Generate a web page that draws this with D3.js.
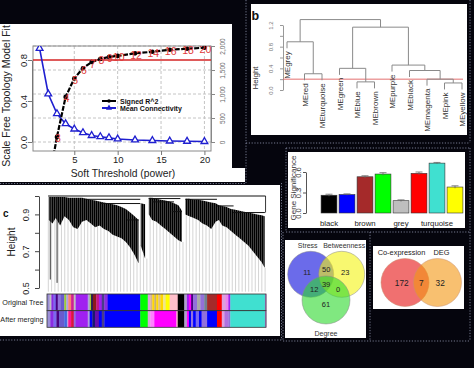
<!DOCTYPE html>
<html><head><meta charset="utf-8">
<script src="https://cdn.jsdelivr.net/npm/d3@7"></script>
<style>
html,body{margin:0;padding:0;background:#05050d;}
svg{display:block;font-family:"Liberation Sans",Arial,Helvetica,sans-serif;}
</style></head>
<body><svg id="fig" width="474" height="368"></svg>
<script>
// ---------- DATA ----------
// panel a : soft threshold
const powers = [1,2,3,4,5,6,7,8,9,10,12,14,16,18,20];
const signedR2 = [-0.75,-0.42,0.05,0.44,0.62,0.72,0.78,0.81,0.83,0.84,0.865,0.88,0.90,0.91,0.92];
const meanConnectivity = [1950,1000,590,380,270,195,135,110,90,63,42,30,20,15,10];
const aXTicks = [5,10,15,20];
const aLeftTicks = [0,0.4,0.8];
const aRightTicks = [0,500,1000,1500,2000];
const aCut = 0.8;
const aLegend = ["Signed R^2","Mean Connectivity"];

// panel b : eigengene dendrogram
const meLeaves = ["MEgrey","MEred","MEturquoise","MEgreen","MEblue","MEbrown","MEpurple","MEblack","MEmagenta","MEpink","MEyellow"];
const meMerges = [["MEred","MEturquoise",0.30],["MEgrey",0,0.89],["MEblue","MEbrown",0.15],["MEgreen",2,0.40],
  ["MEpink","MEyellow",0.13],["MEmagenta",4,0.20],["MEblack",5,0.36],["MEpurple",6,0.46],[3,7,1.16],[1,8,1.30]];
const meTicks = [0,0.2,0.4,0.6,0.8,1.0,1.2];
const meLabelTicks = [0,0.4,0.8,1.2];
const meCut = 0.2;

// gene significance
const gsModules = ["black","blue","brown","green","grey","red","turquoise","yellow"];
const gsFill = ["#000000","#0000ff","#a52a2a","#00ff00","#bebebe","#ff0000","#40e0d0","#ffff00"];
const gsValues = [0.26,0.27,0.53,0.57,0.18,0.58,0.73,0.38];
const gsErrors = [0.015,0.01,0.015,0.02,0.012,0.02,0.01,0.018];
const gsTicks = [0,0.3,0.6];
const gsShownLabels = ["black","brown","grey","turquoise"];

// panel c : gene dendrogram (leaf position %, top height, lowest height)
const treeClusters = [
 [[0.8,0.995,0.87],[2.5,0.995,0.85],[4,0.995,0.88],[6,0.995,0.84],[8,0.995,0.89],[10,0.99,0.87],[12,0.99,0.83],
  [14,0.99,0.82],[16,0.99,0.86],[18,0.985,0.87],[20,0.98,0.85],[22,0.975,0.83],[24,0.97,0.84],[26,0.965,0.82],
  [28,0.96,0.81],[30,0.955,0.79],[32,0.95,0.78],[34,0.94,0.77],[36,0.93,0.75],[38,0.91,0.72],[40,0.89,0.68],[41.8,0.87,0.635]],
 [[42.8,0.96,0.73],[44.8,0.955,0.66]],
 [[46.5,0.99,0.90],[48,0.99,0.87],[50,0.985,0.86],[52,0.98,0.84],[54,0.975,0.82],[56,0.97,0.80],[58,0.96,0.78],[60,0.95,0.76],[61.6,0.92,0.75]],
 [[63.2,0.985,0.90],[65,0.985,0.89],[67,0.98,0.88],[69,0.98,0.87],[71,0.975,0.85],[73,0.97,0.84],[75,0.965,0.82],[77,0.96,0.86],
  [78.5,0.95,0.87],[80,0.945,0.84],[82,0.94,0.83],[84,0.93,0.81],[86,0.925,0.79],[88,0.92,0.77],[90,0.915,0.75],[92,0.91,0.73],
  [94,0.905,0.70],[96,0.90,0.67],[98,0.895,0.64],[99.4,0.89,0.61]]
];
const treeSingles = [[1.5,0.995,0.546],[4.6,0.995,0.528],[99.8,1.0,0.91]];
const treeMerges = [[0.5,99.8,1.0],[17.5,42.6,0.982],[24.4,42.6,0.959],[36.5,41.9,0.87],[46.4,60.9,0.986],[48,58,0.968],
  [57,61.6,0.915],[63.2,77.6,0.982],[77.6,85.2,0.946],[85,99.5,0.91]];
const cTicks = [0.5,0.6,0.7,0.8,0.9,1.0];
const cLabelTicks = [0.5,0.7,0.9];
const origTree = [[0,"#9b8fd8"],[1.2,"#c0c0c0"],[2,"#8a2be2"],[3,"#7b68ee"],[4,"#4b0082"],[4.9,"#9370db"],[6.1,"#6a5acd"],
 [7.9,"#9acd32"],[8.8,"#b0a0e0"],[9.7,"#fa8072"],[11,"#d02090"],[12.2,"#bebebe"],[13.1,"#a020f0"],[18.6,"#b0a0e0"],
 [19.5,"#9acd32"],[20.1,"#2f1f4f"],[21,"#8b1a1a"],[22.5,"#c71585"],[23.7,"#a020f0"],[25,"#483d8b"],[26.2,"#8a2be2"],
 [27.7,"#0000ff"],[42.6,"#00ff00"],[46,"#dda0dd"],[47.2,"#d2b48c"],[48.1,"#ffd700"],[49,"#c8b070"],[49.9,"#ffd700"],
 [50.8,"#e0c080"],[51.8,"#ffd700"],[53,"#f0e68c"],[54.2,"#ffff00"],[56,"#ffc0cb"],[59.7,"#000000"],[62.7,"#b0a0d0"],
 [63.9,"#a020f0"],[64.8,"#ff00ff"],[65.8,"#4b0082"],[66.7,"#9370db"],[68.5,"#a9a9a9"],[70,"#9370db"],[71.8,"#708090"],
 [73.1,"#a52a2a"],[77.6,"#ff0000"],[79.8,"#dda0dd"],[81.6,"#ee82ee"],[82.8,"#a020f0"],[83.7,"#40e0d0"],[99.5,"#c080e0"]];
const mergedTree = [[0,"#9b8fd8"],[1.5,"#8a2be2"],[3,"#7b68ee"],[4.3,"#4b0082"],[5.5,"#6a5acd"],[7.9,"#4169e1"],[9.1,"#c0a0e0"],
 [9.7,"#ff1493"],[11,"#dc143c"],[12.2,"#9370db"],[13.1,"#a020f0"],[18.6,"#b0a0e0"],[19.5,"#0000ff"],[20.7,"#191970"],
 [21.9,"#6a0dad"],[23.7,"#0000ff"],[25,"#483d8b"],[26.2,"#0000ff"],[42.6,"#00ff00"],[46,"#dda0dd"],[47.2,"#ff80ff"],
 [49,"#ff00ff"],[59.1,"#ffc0cb"],[59.7,"#000000"],[62.7,"#b0a0d0"],[63.9,"#ff00ff"],[64.8,"#0000ff"],[65.8,"#9370db"],
 [66.7,"#0000ff"],[67.9,"#7b68ee"],[69.4,"#0000ff"],[70.6,"#9370db"],[73.1,"#0000ff"],[77.6,"#ff0000"],[79.8,"#dda0dd"],
 [81,"#b070e0"],[82.8,"#9370db"],[83.7,"#40e0d0"],[99.5,"#c080e0"]];
const colorRowLabels = ["Original Tree","After merging"];

// venn diagrams
const venn3Sets = ["Stress","Betweenness","Degree"];
const venn3Colors = ["#0808dc","#f3f311","#2bd92b"];
const venn3Regions = ["S","B","D","SB","SD","BD","SBD"];
const venn3Counts = [11,23,61,50,12,0,39];
const venn2Sets = ["Co-expression","DEG"];
const venn2Colors = ["#e61111","#f39611"];
const venn2Counts = [172,32,7];

// ---------- DRAW ----------
const svg = d3.select("#fig");
svg.append("rect").attr("width",474).attr("height",368).attr("fill","#05050d");
const defs = svg.append("defs");
const pat = defs.append("pattern").attr("id","hair").attr("patternUnits","userSpaceOnUse").attr("width",2).attr("height",6);
pat.append("rect").attr("width",1.75).attr("height",6).attr("fill","#000");

// white panels
svg.append("path").attr("d","M0,24H232V168H245V182H0Z").attr("fill","#fff");
[[251,4,216,131],[288,152,177,76],[0,185,280,151],[285,240,81,98],[373,246,91,63]].forEach(([x,y,w,h])=>
  svg.append("rect").attr("x",x).attr("y",y).attr("width",w).attr("height",h).attr("fill","#fff"));
const dots = [[246,0,246,183],[0,183.5,246,183.5],[470,0,470,143],[246,143,470,143],[286,148,286,232],[286,148,470,148],
  [470,148,470,232],[286,232,470,232],[281.5,183,281.5,340],[0,340,281.5,340],[283,232,283,341],[370,232,370,341],[470,232,470,341],[283,341,470,341]];
svg.append("g").selectAll("line").data(dots).join("line")
  .attr("x1",d=>d[0]).attr("y1",d=>d[1]).attr("x2",d=>d[2]).attr("y2",d=>d[3])
  .attr("stroke","#8f95b0").attr("stroke-width",0.8).attr("stroke-dasharray","1.2,1.6");

function rotText(g,x,y,txt,size,fill,anchor){
  return g.append("text").attr("transform",`translate(${x},${y}) rotate(-90)`).attr("text-anchor",anchor||"middle")
    .attr("font-size",size).attr("fill",fill||"#222").text(txt);
}
function rotateAxisText(sel,dx,size,fill){
  sel.selectAll("text").attr("x",null).attr("dy",null).attr("y",null).attr("transform",`translate(${dx},0) rotate(-90)`)
    .attr("text-anchor","middle").attr("font-size",size).attr("fill",fill).attr("font-family",null);
}

// ===== PANEL A =====
const gA = svg.append("g");
const xA = d3.scaleLinear().domain([0.24,20.76]).range([33,211]);
const yL = d3.scaleLinear().domain([0,0.8]).range([142,60]);
const yR = d3.scaleLinear().domain([0,2000]).range([142,46]);
gA.selectAll(".gx").data(aXTicks).join("line").attr("x1",d=>xA(d)).attr("x2",d=>xA(d)).attr("y1",46).attr("y2",151)
  .attr("stroke","#c4c4c4").attr("stroke-dasharray","3,2");
gA.selectAll(".gy").data(aRightTicks).join("line").attr("x1",33).attr("x2",211).attr("y1",d=>yR(d)).attr("y2",d=>yR(d))
  .attr("stroke","#c4c4c4").attr("stroke-dasharray","3,2");
gA.append("rect").attr("x",33).attr("y",46).attr("width",178).attr("height",105).attr("fill","none").attr("stroke","#8a8a8a");
const axB = gA.append("g").attr("transform","translate(0,151)")
  .call(d3.axisBottom(xA).tickValues(aXTicks).tickSize(4).tickSizeOuter(0).tickPadding(1));
axB.select(".domain").remove();
axB.selectAll("line").attr("stroke","#777");
axB.selectAll("text").attr("font-size",9.5).attr("fill","#222").attr("font-family",null);
const axL = gA.append("g").attr("transform","translate(32,0)")
  .call(d3.axisLeft(yL).tickValues(aLeftTicks).tickFormat(d3.format(".1f")).tickSize(4).tickSizeOuter(0));
axL.selectAll("line,path").attr("stroke","#777");
rotateAxisText(axL,-5.5,9.5,"#222");
const axR = gA.append("g").attr("transform","translate(211,0)")
  .call(d3.axisRight(yR).tickValues(aRightTicks).tickSize(4).tickSizeOuter(0));
axR.selectAll("line,path").attr("stroke","#888");
rotateAxisText(axR,14,6.5,"#666");
rotText(gA,10,96,"Scale Free Topology Model Fit",10.5,"#222");
gA.append("text").attr("x",123).attr("y",177).attr("text-anchor","middle").attr("font-size",10.3).attr("fill","#222").text("Soft Threshold (power)");

// plot region as a nested svg (clips its content)
const cA = gA.append("svg").attr("x",33).attr("y",46).attr("width",178).attr("height",105)
  .attr("viewBox","33 46 178 105").attr("overflow","hidden");
cA.append("line").attr("x1",33).attr("x2",211).attr("y1",yL(aCut)).attr("y2",yL(aCut)).attr("stroke","#d42424").attr("stroke-width",1.4);
const r2pts = powers.map((p,i)=>[p,signedR2[i]]);
const mcpts = powers.map((p,i)=>[p,meanConnectivity[i]]);
cA.append("path").datum(mcpts).attr("d",d3.line().x(d=>xA(d[0])).y(d=>yR(d[1]))).attr("fill","none").attr("stroke","#1f1fd0").attr("stroke-width",1.6);
cA.selectAll(".tri").data(mcpts).join("path").attr("transform",d=>`translate(${xA(d[0])},${yR(d[1])})`)
  .attr("d",d3.symbol(d3.symbolTriangle,20)).attr("fill","#fff").attr("stroke","#1f1fd0").attr("stroke-width",1.3);
cA.append("path").datum(r2pts).attr("d",d3.line().x(d=>xA(d[0])).y(d=>yL(d[1]))).attr("fill","none").attr("stroke","#000").attr("stroke-width",2.2).attr("stroke-dasharray","5,1.5");
cA.selectAll(".dot").data(r2pts).join("circle").attr("cx",d=>xA(d[0])).attr("cy",d=>yL(d[1])).attr("r",2.3).attr("fill","#000");
cA.selectAll(".lab").data(r2pts).join("text").attr("x",d=>xA(d[0])+1).attr("y",d=>yL(d[1])+5.5).attr("text-anchor","middle")
  .attr("font-size",10.5).attr("fill","#e23a3a").text(d=>d[0]);
// legend
const lg = gA.append("g").attr("font-size",7).attr("font-weight","bold").attr("fill","#111");
lg.append("line").attr("x1",102).attr("x2",116).attr("y1",101).attr("y2",101).attr("stroke","#000").attr("stroke-width",2);
lg.append("circle").attr("cx",109).attr("cy",101).attr("r",1.8).attr("fill","#000");
lg.append("line").attr("x1",102).attr("x2",116).attr("y1",108).attr("y2",108).attr("stroke","#1f1fd0").attr("stroke-width",2);
lg.append("path").attr("transform","translate(109,108)").attr("d",d3.symbol(d3.symbolTriangle,16)).attr("fill","#1f1fd0");
lg.selectAll("text").data(aLegend).join("text").attr("x",120).attr("y",(d,i)=>103.5+i*7).text(d=>d);

// ===== PANEL B =====
const gB = svg.append("g");
const xB = d3.scalePoint().domain(meLeaves).range([287,462]);
const yB = d3.scaleLinear().domain([0,1.2]).range([90,25]);
const hang = 0.12;
gB.append("text").attr("x",251.5).attr("y",19.5).attr("font-size",12.5).attr("font-weight","bold").attr("fill","#111").text("b");
const axBB = gB.append("g").attr("transform","translate(283,0)")
  .call(d3.axisLeft(yB).tickValues(meTicks).tickSize(3).tickSizeOuter(0).tickFormat(d=>meLabelTicks.includes(d)?d3.format(".1f")(d):""));
axBB.selectAll("line,path").attr("stroke","#999");
rotateAxisText(axBB,-10,6,"#777");
rotText(gB,258,78,"Height",8,"#333");
gB.append("line").attr("x1",283).attr("x2",463).attr("y1",yB(meCut)).attr("y2",yB(meCut)).attr("stroke","#e06060").attr("stroke-width",0.9);
const meNodes = [];
const dLines = [];
const leafEnds = [];
function node(ref,h){
  if(typeof ref === "string"){ const lh=h-hang; leafEnds.push({name:ref,x:xB(ref),h:lh}); return {x:xB(ref),h:lh}; }
  return meNodes[ref];
}
meMerges.forEach(([a,b,h])=>{
  const A=node(a,h), B=node(b,h);
  dLines.push([A.x,A.h,A.x,h],[B.x,B.h,B.x,h],[A.x,h,B.x,h]);
  meNodes.push({x:(A.x+B.x)/2,h:h});
});
gB.selectAll(".dl").data(dLines).join("line").attr("x1",d=>d[0]).attr("x2",d=>d[2]).attr("y1",d=>yB(d[1])).attr("y2",d=>yB(d[3]))
  .attr("stroke","#8a8a8a").attr("stroke-width",1);
gB.selectAll(".ll").data(leafEnds).join("text").attr("transform",d=>`translate(${d.x+3},${yB(d.h)+3}) rotate(-90)`)
  .attr("text-anchor","end").attr("font-size",8).attr("fill","#333").text(d=>d.name);

// ===== GENE SIGNIFICANCE =====
const gG = svg.append("g");
const xG = d3.scaleBand().domain(gsModules).range([320,464]).paddingInner(0.12).paddingOuter(0.06);
const yG = d3.scaleLinear().domain([0,0.6]).range([213,172]);
gG.selectAll(".bar").data(gsModules).join("rect").attr("x",d=>xG(d)).attr("width",xG.bandwidth())
  .attr("y",(d,i)=>yG(gsValues[i])).attr("height",(d,i)=>yG(0)-yG(gsValues[i]))
  .attr("fill",(d,i)=>gsFill[i]).attr("stroke","#333").attr("stroke-width",0.6);
const eb = gG.selectAll(".eb").data(gsModules).join("g").attr("stroke","#666").attr("stroke-width",0.8);
eb.append("line").attr("x1",d=>xG(d)+xG.bandwidth()/2).attr("x2",d=>xG(d)+xG.bandwidth()/2)
  .attr("y1",(d,i)=>yG(gsValues[i]-gsErrors[i])).attr("y2",(d,i)=>yG(gsValues[i]+gsErrors[i]));
eb.append("line").attr("x1",d=>xG(d)+xG.bandwidth()/2-3.5).attr("x2",d=>xG(d)+xG.bandwidth()/2+3.5)
  .attr("y1",(d,i)=>yG(gsValues[i]+gsErrors[i])).attr("y2",(d,i)=>yG(gsValues[i]+gsErrors[i]));
const axG = gG.append("g").attr("transform","translate(306,0)")
  .call(d3.axisLeft(yG).tickValues(gsTicks).tickFormat(d3.format(".1f")).tickSize(3).tickSizeOuter(0));
axG.selectAll("line,path").attr("stroke","#555");
rotateAxisText(axG,-5,7.5,"#333");
rotText(gG,296,188,"Gene Significance",8,"#333");
gG.selectAll(".xl").data(gsShownLabels).join("text").attr("x",d=>xG(d)+xG.bandwidth()/2).attr("y",226)
  .attr("text-anchor","middle").attr("font-size",7.8).attr("fill","#222").text(d=>d);

// ===== PANEL C =====
const gC = svg.append("g");
const xC = d3.scaleLinear().domain([0,100]).range([47,266]);
const yC = d3.scaleLinear().domain([0.5,1.0]).range([288,196]);
gC.append("text").attr("x",3).attr("y",216.5).attr("font-size",10).attr("font-weight","bold").attr("fill","#111").text("c");
const axC = gC.append("g").attr("transform","translate(39,0)")
  .call(d3.axisLeft(yC).tickValues(cTicks).tickSize(4).tickSizeOuter(0).tickFormat(d=>cLabelTicks.some(v=>Math.abs(v-d)<1e-9)?d3.format(".1f")(d):""));
axC.selectAll("line,path").attr("stroke","#444");
rotateAxisText(axC,-10,9,"#222");
rotText(gC,15,242,"Height",10,"#222");
function lowAt(p){
  for(const c of treeClusters){
    if(p>=c[0][0] && p<=c[c.length-1][0]){
      const i = d3.bisector(d=>d[0]).left(c,p);
      if(i===0) return c[0][2];
      const a=c[i-1], b=c[i], t=(p-a[0])/(b[0]-a[0]);
      return a[2]+t*(b[2]-a[2]);
    }
  }
  const all = treeClusters.flat().concat(treeSingles);
  return all.reduce((best,d)=>Math.abs(d[0]-p)<Math.abs(best[0]-p)?d:best)[2];
}
const guides = d3.range(0.6,100,1.5);
gC.selectAll(".guide").data(guides).join("line").attr("x1",d=>xC(d)).attr("x2",d=>xC(d))
  .attr("y1",d=>yC(lowAt(d))).attr("y2",yC(0.48)).attr("stroke","#c9c9c9").attr("stroke-width",0.8);
const treeArea = d3.area().x(d=>xC(d[0])).y0(d=>yC(d[2])).y1(d=>yC(d[1]));
gC.selectAll(".cl").data(treeClusters).join("path").attr("d",treeArea).attr("fill","url(#hair)");
gC.selectAll(".sg").data(treeSingles).join("line").attr("x1",d=>xC(d[0])).attr("x2",d=>xC(d[0]))
  .attr("y1",d=>yC(d[1])).attr("y2",d=>yC(d[2])).attr("stroke","#222").attr("stroke-width",0.9);
gC.selectAll(".tm").data(treeMerges).join("line").attr("x1",d=>xC(d[0])).attr("x2",d=>xC(d[1]))
  .attr("y1",d=>yC(d[2])).attr("y2",d=>yC(d[2])).attr("stroke","#111").attr("stroke-width",1);
const rows = [origTree, mergedTree];
const rowY = [294,310.7], rowH = 16.6;
rows.forEach((segs,r)=>{
  const g = gC.append("g");
  g.selectAll("rect").data(segs).join("rect").attr("x",d=>xC(d[0]))
    .attr("width",(d,i)=>xC(i<segs.length-1?segs[i+1][0]:100)-xC(d[0])+0.3)
    .attr("y",rowY[r]).attr("height",rowH).attr("fill",d=>d[1]);
  g.append("rect").attr("x",xC(0)).attr("y",rowY[r]).attr("width",xC(100)-xC(0)).attr("height",rowH)
    .attr("fill","none").attr("stroke","#333").attr("stroke-width",0.8);
  gC.append("text").attr("x",43.5).attr("y",rowY[r]+11).attr("text-anchor","end").attr("font-size",7.2).attr("fill","#222").text(colorRowLabels[r]);
});

// ===== VENN 1 =====
const gV = svg.append("g");
const vC = [[310.7,274.3],[341.7,274.3],[326,300]];
const vR = [23,23,24];
gV.selectAll("circle").data(venn3Sets).join("circle").attr("cx",(d,i)=>vC[i][0]).attr("cy",(d,i)=>vC[i][1]).attr("r",(d,i)=>vR[i])
  .attr("fill",(d,i)=>venn3Colors[i]).attr("fill-opacity",0.6).attr("stroke","#888").attr("stroke-width",0.5);
const G = [d3.mean(vC,d=>d[0]), d3.mean(vC,d=>d[1])];
const idx = {S:0,B:1,D:2};
function regionPos(code){
  const ids = code.split("").map(c=>idx[c]);
  if(ids.length===1){ const c=vC[ids[0]]; return [c[0]+0.23*(c[0]-G[0]), c[1]+0.23*(c[1]-G[1])]; }
  if(ids.length===2){ const a=vC[ids[0]], b=vC[ids[1]], t=vC[[0,1,2].find(k=>!ids.includes(k))];
    const m=[(a[0]+b[0])/2,(a[1]+b[1])/2]; return [m[0]+0.18*(m[0]-t[0]), m[1]+0.18*(m[1]-t[1])]; }
  return [G[0],G[1]+1.4];
}
gV.selectAll(".vn").data(venn3Regions).join("text").attr("x",d=>regionPos(d)[0]).attr("y",d=>regionPos(d)[1]+2.6)
  .attr("text-anchor","middle").attr("font-size",7.5).attr("fill","#222").text((d,i)=>venn3Counts[i]);
const v3LabPos = [[vC[0][0]-3,247.5],[vC[1][0]+2.5,247.5],[vC[2][0],335.5]];
gV.selectAll(".vl").data(venn3Sets).join("text").attr("x",(d,i)=>v3LabPos[i][0]).attr("y",(d,i)=>v3LabPos[i][1])
  .attr("text-anchor","middle").attr("font-size",7).attr("fill","#333").text(d=>d);

// ===== VENN 2 =====
const gW = svg.append("g");
const wC = [[405,282.5],[437.5,282.5]], wR = 24;
gW.selectAll("circle").data(venn2Sets).join("circle").attr("cx",(d,i)=>wC[i][0]).attr("cy",(d,i)=>wC[i][1]).attr("r",wR)
  .attr("fill",(d,i)=>venn2Colors[i]).attr("fill-opacity",0.6).attr("stroke","#c89070").attr("stroke-width",0.5);
const w2Pos = [[wC[0][0]-3.3,wC[0][1]],[wC[1][0]+2.7,wC[1][1]],[(wC[0][0]+wC[1][0])/2,wC[0][1]]];
gW.selectAll(".wn").data(venn2Counts).join("text").attr("x",(d,i)=>w2Pos[i][0]).attr("y",(d,i)=>w2Pos[i][1]+3)
  .attr("text-anchor","middle").attr("font-size",8.3).attr("fill","#222").text(d=>d);
gW.selectAll(".wl").data(venn2Sets).join("text").attr("x",(d,i)=>[401.5,441.5][i]).attr("y",254.5)
  .attr("text-anchor","middle").attr("font-size",7.4).attr("fill","#222").text(d=>d);
</script></body></html>
